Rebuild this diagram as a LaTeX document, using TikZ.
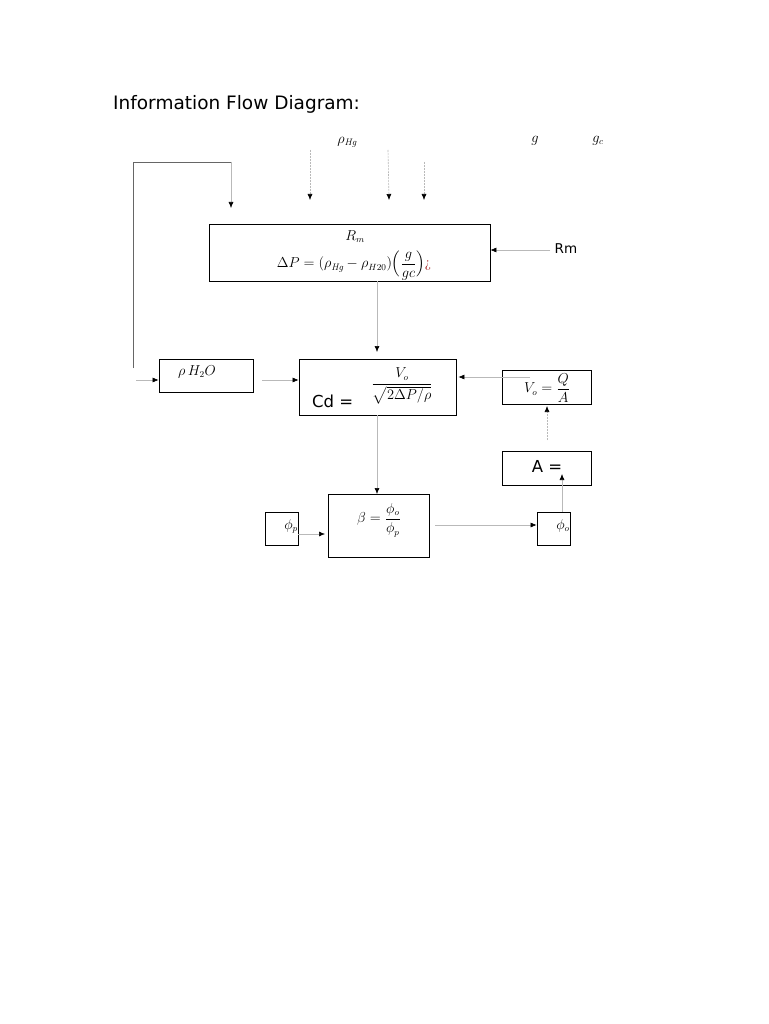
\documentclass[tikz,border=0pt]{standalone}
\usepackage{fontspec}
\usepackage{amsmath}
\setsansfont{DejaVu Sans}
\usetikzlibrary{arrows.meta}
\begin{document}
\begin{tikzpicture}[x=1pt,y=-1pt,
  box/.style={draw=black,line width=0.8pt,inner sep=0pt},
  flow/.style={draw=gray!55,line width=0.6pt,-{Latex[black,length=6pt,width=5pt]}},
  dflow/.style={flow,dash pattern=on 2pt off 1pt},
  lbl/.style={font=\sffamily\fontsize{13.5}{16}\selectfont,inner sep=0pt},
  big/.style={font=\sffamily\fontsize{16.5}{19}\selectfont,inner sep=0pt},
  mth/.style={font=\fontsize{13.5}{16}\selectfont,inner sep=0pt}]
\useasboundingbox[fill=white] (0,0) rectangle (768,1024);
% title
\node[font=\sffamily\fontsize{18.5}{22}\selectfont,anchor=west,inner sep=0pt] (title) at (113,104) {Information Flow Diagram:};
% inputs
\node[mth] (rhohg) at (347,142) {$\rho_{\mathit{Hg}}$};
\node[mth] (g) at (535,141) {$g$};
\node[mth] (gc) at (598,141) {$g_c$};
% boxes
\node[box,minimum width=281,minimum height=57] (dp) at (349.5,252.5) {};
\node[mth] (rm) at (355,237) {$R_m$};
\node[mth] (dpeq) at (354,266) {$\Delta P=(\rho_{\mathit{Hg}}-\rho_{H20})\Bigl(\dfrac{g}{gc}\Bigr)\textcolor{red!60!black}{¿}$};
\node[lbl] (rmin) at (566,249) {Rm};
\node[box,minimum width=94,minimum height=33] (water) at (206,375.5) {};
\node[mth,anchor=west] (watert) at (178,372) {$\rho\, H_2O$};
\node[box,minimum width=157,minimum height=56] (cd) at (377.5,387) {};
\node[big,anchor=west] (cdt) at (312,401) {Cd =};
\node[mth] (cdf) at (402,386) {$\dfrac{V_o}{\sqrt{2\Delta P/\rho}}$};
\node[box,minimum width=89,minimum height=34] (vo) at (546.5,387) {};
\node[mth] (vot) at (547,388) {$V_o=\dfrac{Q}{A}$};
\node[box,minimum width=89,minimum height=34] (area) at (546.5,468) {};
\node[big] (areat) at (547,466) {A =};
\node[box,minimum width=101,minimum height=63] (beta) at (378.5,525.5) {};
\node[mth] (betat) at (379,520) {$\beta=\dfrac{\phi_o}{\phi_p}$};
\node[box,minimum width=33,minimum height=33] (phip) at (281.5,528.5) {};
\node[mth] (phipt) at (291,526) {$\phi_p$};
\node[box,minimum width=33,minimum height=33] (phio) at (553.5,528.5) {};
\node[mth] (phiot) at (563,526) {$\phi_o$};
% free ends
\coordinate (fbA) at (133,368);
\coordinate (fbB) at (133,162);
\coordinate (fbC) at (231,162);
\coordinate (fbD) at (231,208);
\coordinate (a1s) at (310,150); \coordinate (a1e) at (310,200);
\coordinate (a2s) at (388,150); \coordinate (a2e) at (389,200);
\coordinate (a3s) at (424,162); \coordinate (a3e) at (424,200);
\coordinate (rms) at (550,250);
\coordinate (wins) at (136,380);
\coordinate (dpdn) at (377,352);
\coordinate (cddn) at (377,494);
\coordinate (vos) at (530,377);
\coordinate (ups) at (547,440);
\coordinate (vobot) at (547,406);
\coordinate (phpy) at (298,534);
\coordinate (betin) at (325,534);
\coordinate (bos) at (435,525);
\coordinate (phiup) at (562,474);
% connectors
\draw[draw=gray!80!black,line width=0.8pt] (fbA) -- (fbB) -- (fbC);
\draw[flow] (fbC) -- (fbD);
\draw[dflow] (a1s) -- (a1e);
\draw[dflow] (a2s) -- (a2e);
\draw[dflow] (a3s) -- (a3e);
\draw[flow] (rms) -- (dp.east |- rms);
\draw[flow] (dp.south -| dpdn) -- (dpdn);
\draw[flow] (wins) -- (water.west |- wins);
\draw[flow] ([xshift=9pt]water.east |- wins) -- (cd.west |- wins);
\draw[flow] (vos) -- ([xshift=2pt]cd.east |- vos);
\draw[dflow] (ups) -- (vobot);
\draw[flow] (cd.south -| cddn) -- (cddn);
\draw[flow] (phpy) -- (betin);
\draw[flow] (bos) -- (phio.west |- bos);
\draw[flow] (phio.north -| phiup) -- (phiup);
\end{tikzpicture}
\end{document}
